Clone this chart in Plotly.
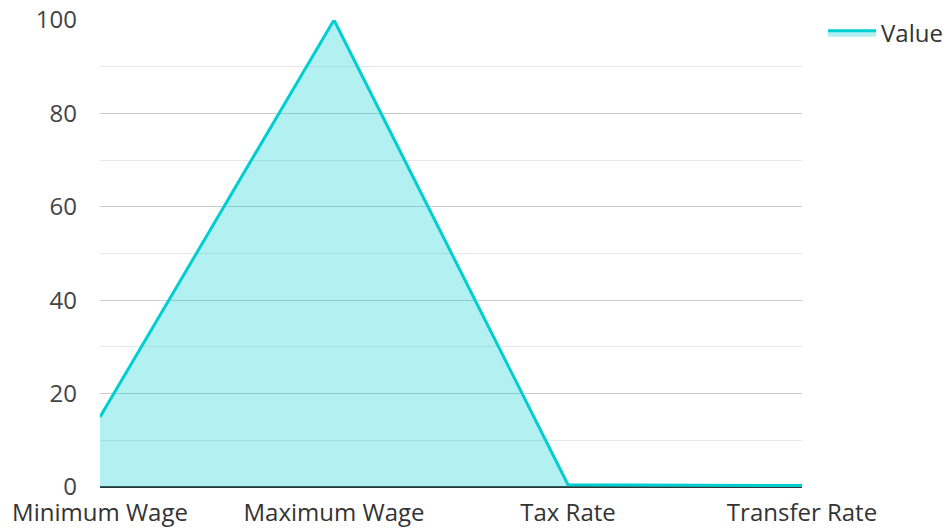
import plotly.graph_objects as go

categories = ["Minimum Wage", "Maximum Wage", "Tax Rate", "Transfer Rate"]
values = [15, 100, 0.5, 0.3]
series_name = "Value"

fig = go.Figure()
fig.add_trace(go.Scatter(
    x=categories, y=values, name=series_name, mode="lines",
    line=dict(color="#00CED1", width=3),
    fill="tozeroy", fillcolor="rgba(0,206,209,0.3)",
))

font = "Open Sans, Noto Sans, sans-serif"
fig.update_layout(
    width=951, height=529,
    margin=dict(l=100, r=149, t=20, b=42, autoexpand=False),
    paper_bgcolor="white", plot_bgcolor="white",
    font=dict(family=font, size=24, color="#444"),
    showlegend=True,
    legend=dict(x=1.03, y=1.02, xanchor="left", yanchor="top",
                font=dict(size=24, color="#333"), itemwidth=48,
                bgcolor="rgba(0,0,0,0)"),
    xaxis=dict(range=[0, 3], showgrid=False, ticks="", showline=False,
               zeroline=False, automargin=False, ticklabelstandoff=9,
               tickfont=dict(size=24, color="#333")),
    yaxis=dict(range=[0, 100], tickvals=[0, 20, 40, 60, 80, 100],
               showgrid=True, gridcolor="#cccccc", gridwidth=1,
               zeroline=True, zerolinecolor="#333", zerolinewidth=2,
               automargin=False,
               minor=dict(dtick=10, showgrid=True, gridcolor="#e8e8e8", gridwidth=1),
               ticks="", tickfont=dict(size=24, color="#444"), ticklabelstandoff=22),
)
fig.write_html("out.html")
